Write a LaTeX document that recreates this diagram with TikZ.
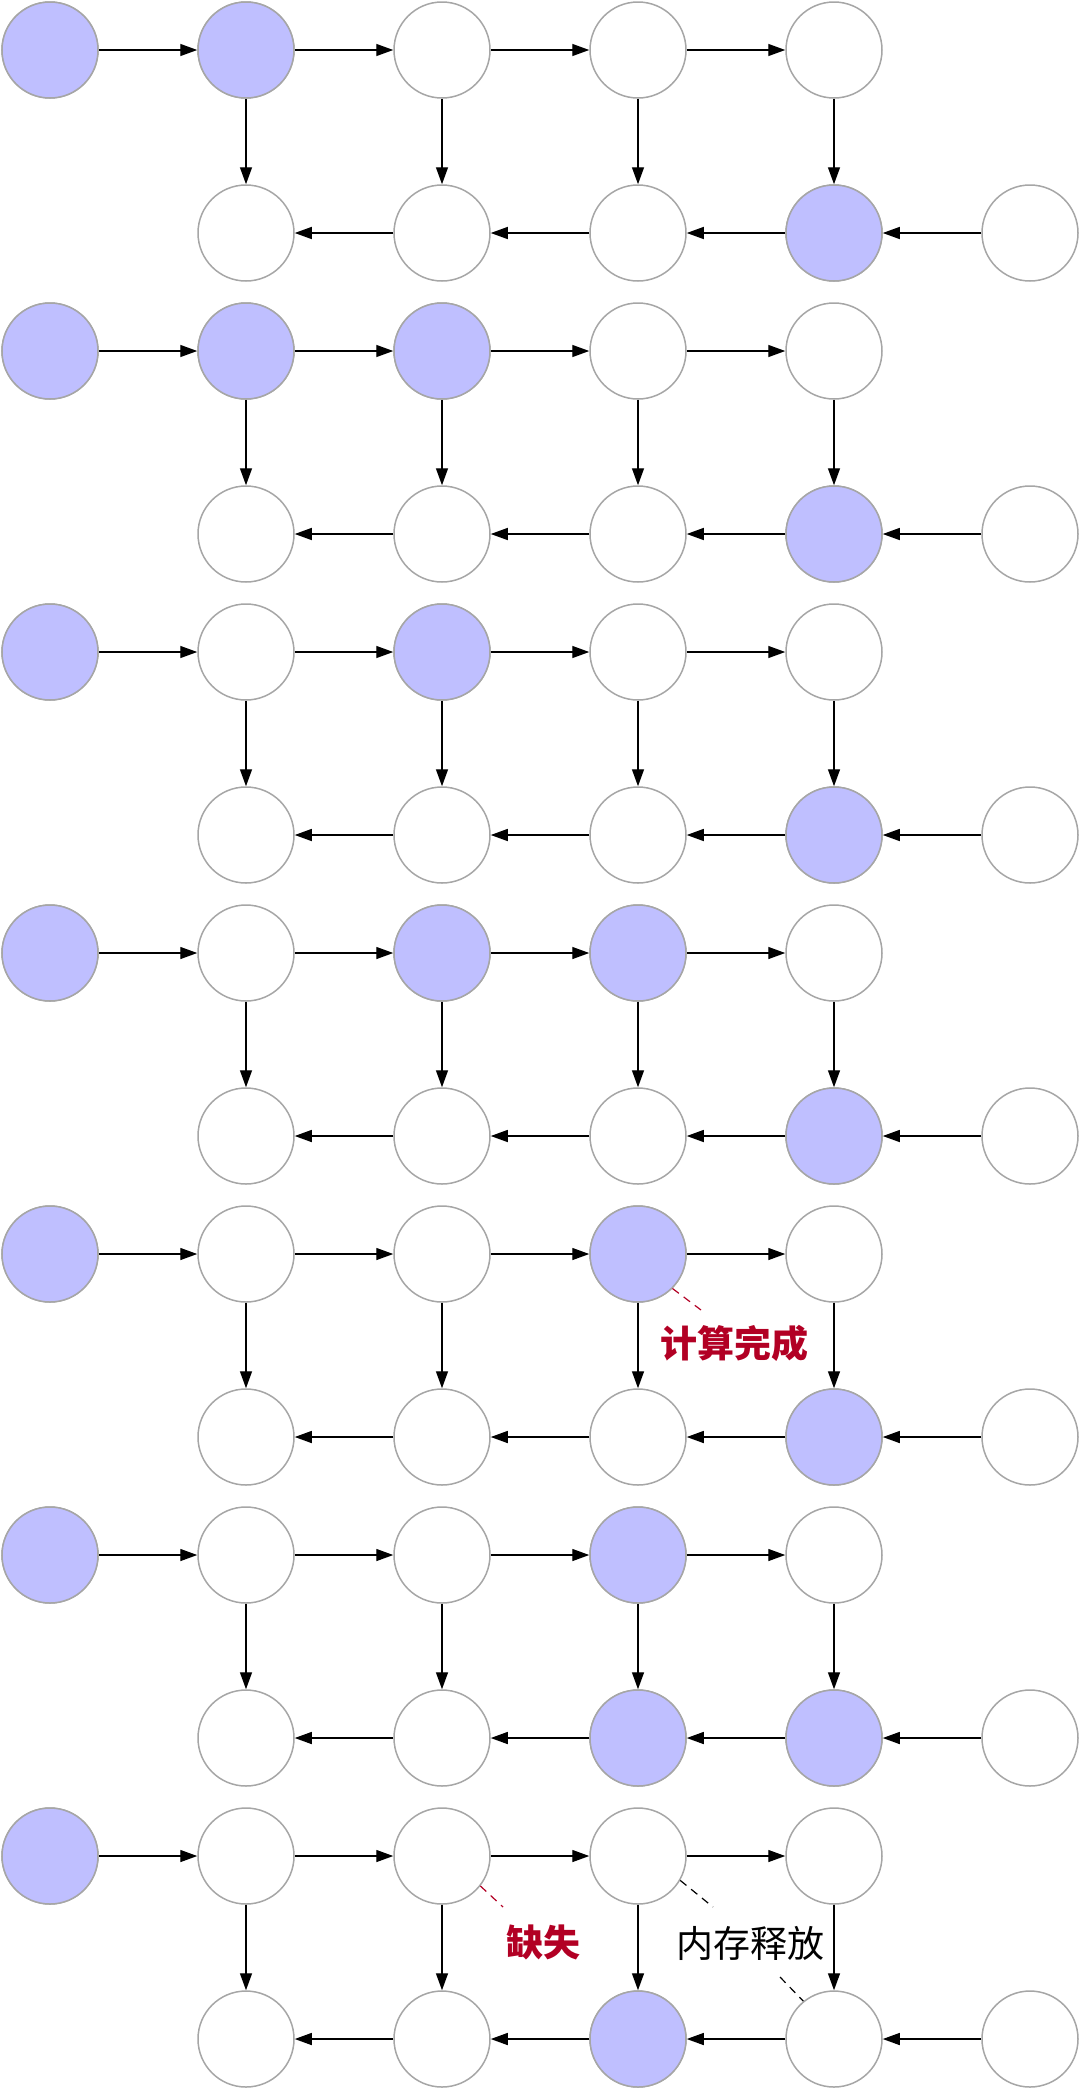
\documentclass[tikz,border=0pt]{standalone}
\usepackage{fontspec}
\newfontfamily\cjk{Noto Sans CJK SC}
\usetikzlibrary{arrows.meta}
\definecolor{busy}{RGB}{191,191,255}
\definecolor{rim}{RGB}{166,166,166}
\definecolor{alarm}{RGB}{178,0,36}

\begin{document}
\begin{tikzpicture}[x=1pt, y=-1pt,
        cell/.style={circle, draw=rim, line width=1.5pt, fill=white, minimum size=96pt, inner sep=0pt},
        full/.style={cell, fill=busy},
        flow/.style={-{Triangle[length=17pt, width=12pt]}, line width=1.4pt},
        note/.style={font=\cjk\fontsize{37}{40}\selectfont},
        warn/.style={text=alarm, font=\cjk\bfseries\fontsize{37}{40}\selectfont},
        hint/.style={dash pattern=on 8pt off 6pt, line width=1.2pt}]
                \useasboundingbox (0,0) rectangle (1080,2088);

                % seven snapshots: top row 1..5, bottom row 2..6
                \foreach \g/\tops/\bots in {1/{1,2}/{5}, 2/{1,2,3}/{5}, 3/{1,3}/{5}, 4/{1,3,4}/{5},
                        5/{1,4}/{5}, 6/{1,4}/{4,5}, 7/{1}/{4}} {
                    \pgfmathsetmacro{\ytop}{50+301*(\g-1)}
                    \foreach \i in {1,...,5}
                        \node [cell] (t\g-\i) at ({50+196*(\i-1)}, \ytop) {};
                    \foreach \i in {2,...,6}
                        \node [cell] (b\g-\i) at ({50+196*(\i-1)}, \ytop+183) {};
                    \foreach \i in \tops
                        \node [full] at (t\g-\i) {};
                    \foreach \i in \bots
                        \node [full] at (b\g-\i) {};

                    \foreach \i [evaluate=\i as \j using int(\i+1)] in {1,...,4}
                        \draw [flow] (t\g-\i) -- (t\g-\j);
                    \foreach \i in {2,...,5}
                        \draw [flow] (t\g-\i) -- (b\g-\i);
                    \foreach \i [evaluate=\i as \j using int(\i+1)] in {2,...,5}
                        \draw [flow] (b\g-\j) -- (b\g-\i);
                }

                \node [warn] (done) at (734, 1343) {计算完成};
                \coordinate (done-end) at (701, 1310);
                \draw [hint, alarm] (t5-4.-45) -- (done-end);

                \node [warn] (lost) at (543, 1942) {缺失};
                \coordinate (lost-end) at (503, 1907);
                \draw [hint, alarm] (t7-3.-38) -- (lost-end);

                \node [note] (freed) at (750, 1943) {内存释放};
                \coordinate (freed-up) at (713, 1907);
                \coordinate (freed-down) at (780, 1977);
                \draw [hint] (t7-4.-30) -- (freed-up);
                \draw [hint] (freed-down) -- (b7-5.129);
            \end{tikzpicture}
\end{document}
